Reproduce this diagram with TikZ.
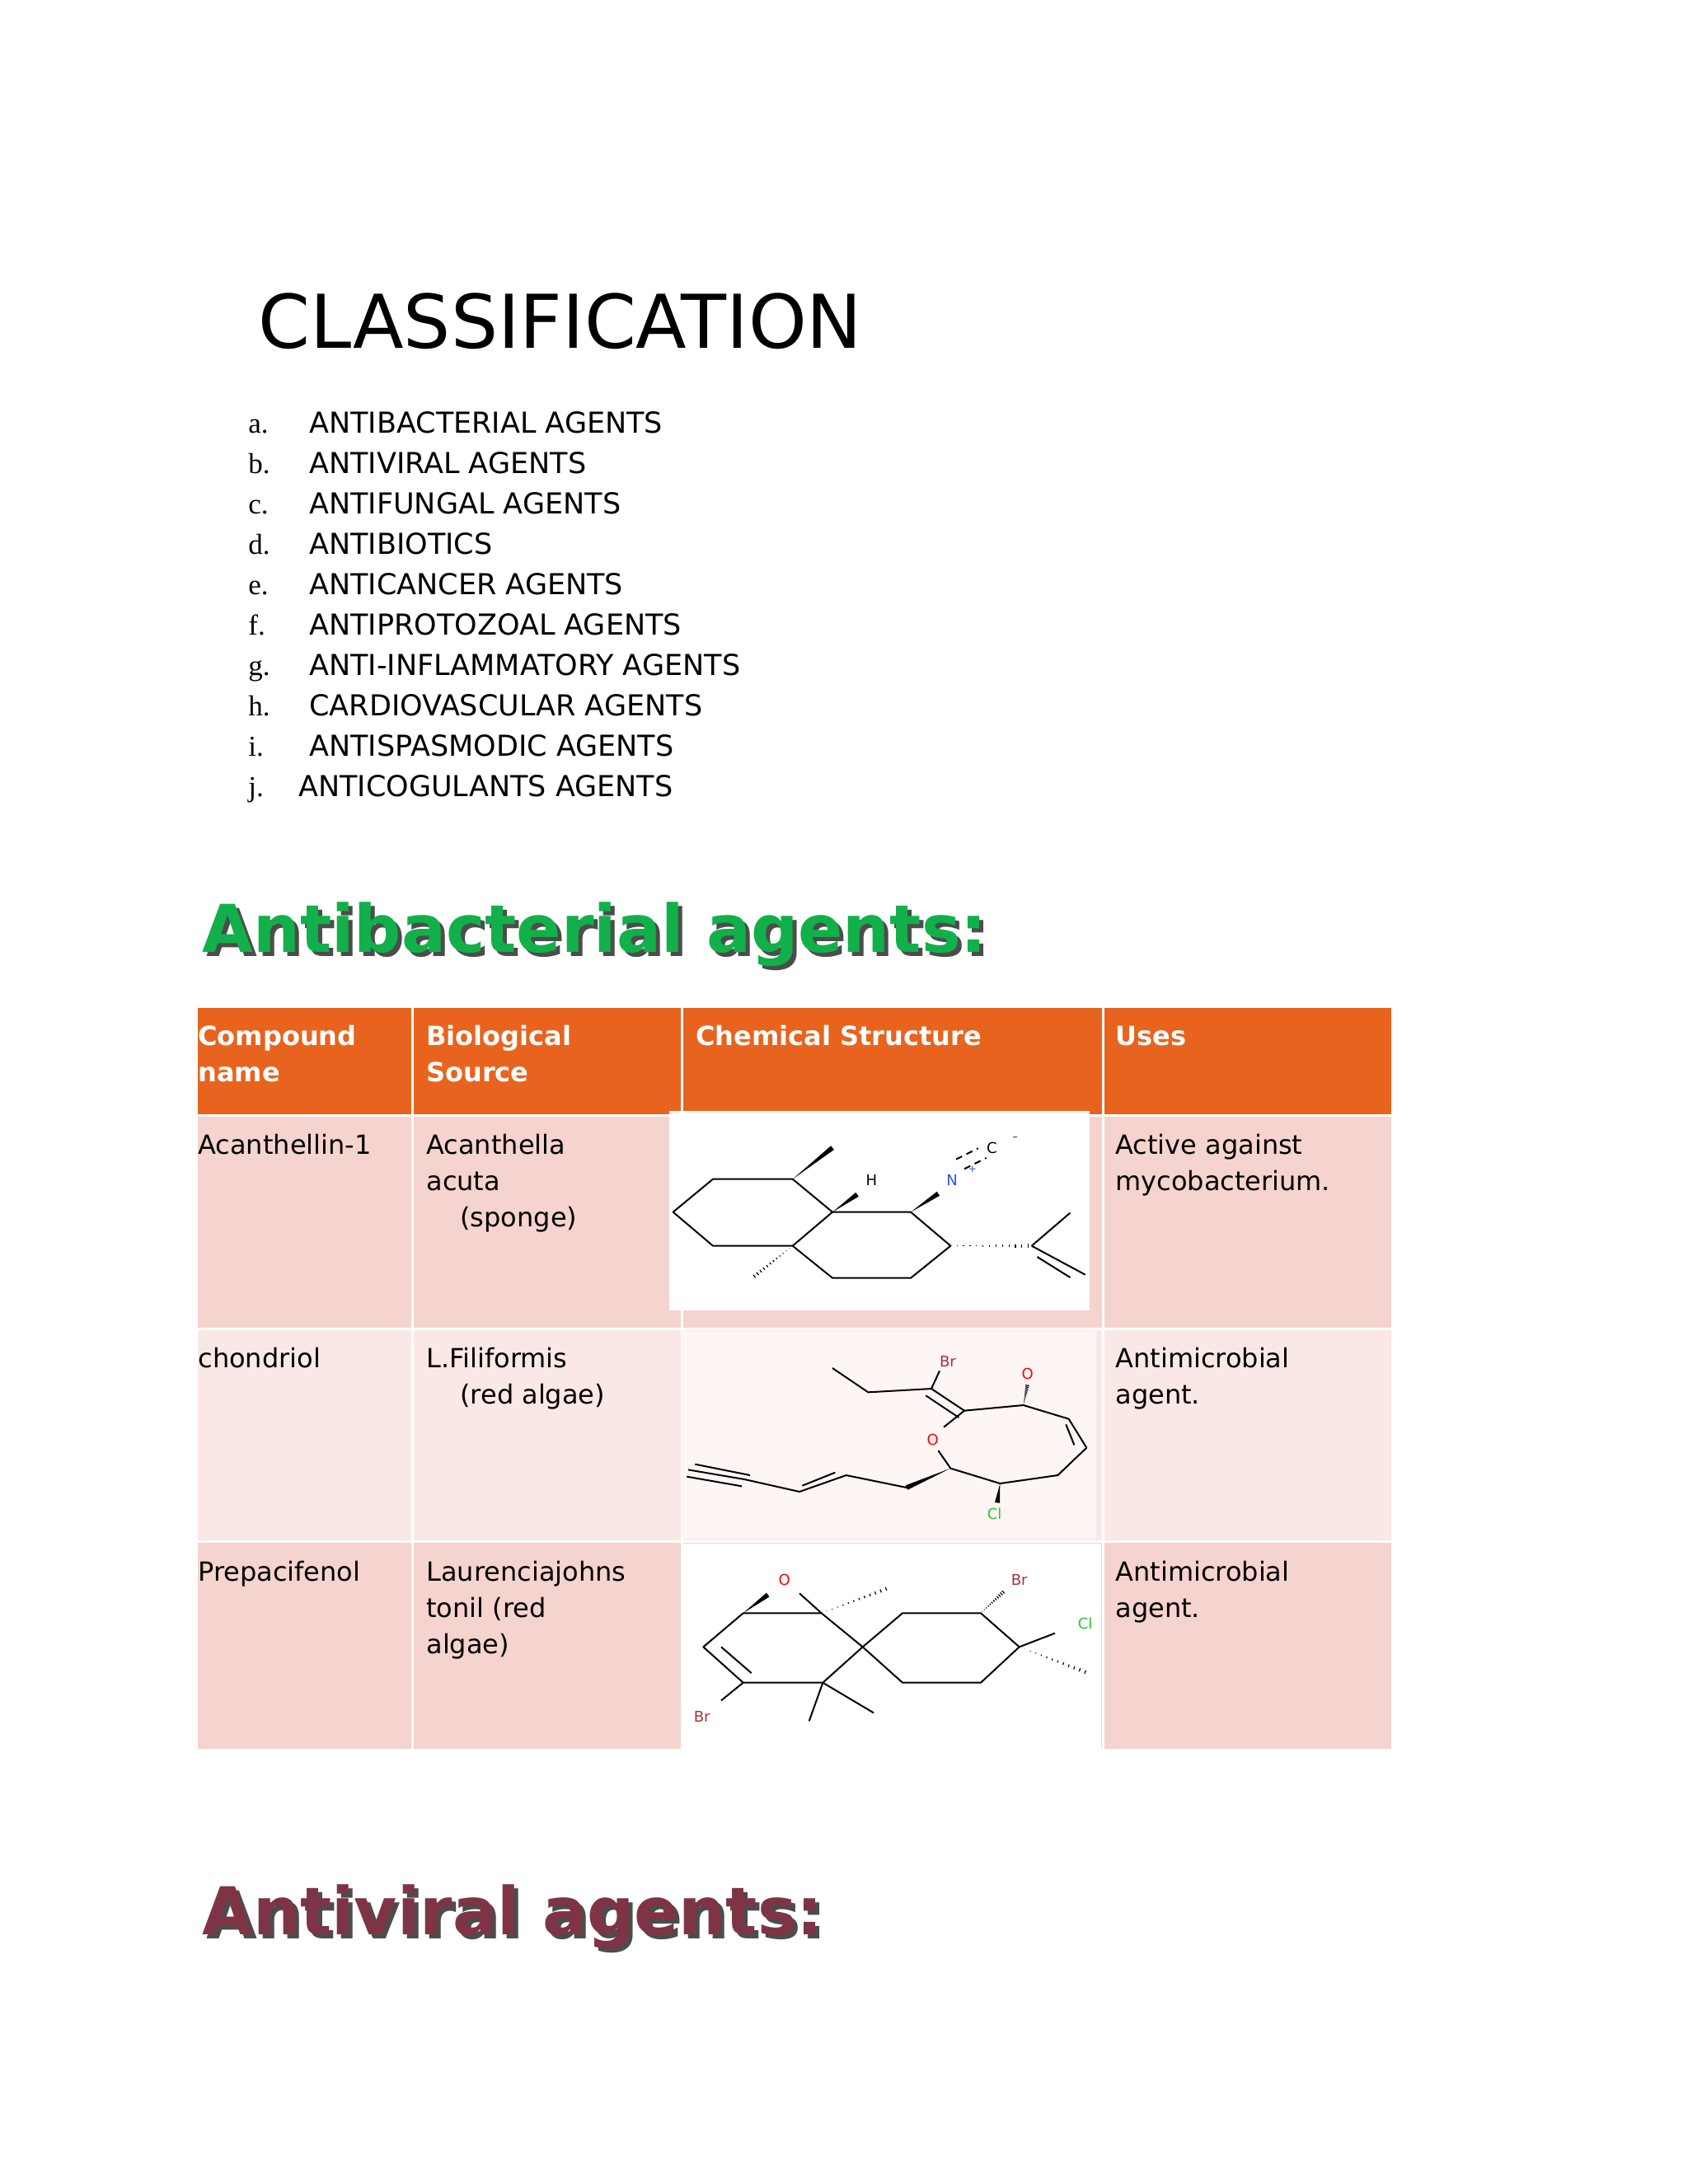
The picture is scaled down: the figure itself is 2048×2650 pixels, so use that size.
\documentclass[tikz,border=0pt]{standalone}
\usepackage{fontspec}
\setmainfont{DejaVu Sans}
\newfontfamily\serifletters{Liberation Serif}
\usetikzlibrary{calc}
\definecolor{hdr}{HTML}{E8641E}
\definecolor{rowa}{HTML}{F5D3CE}
\definecolor{rowb}{HTML}{FAE8E6}
\definecolor{grn}{HTML}{12B04A}
\definecolor{mar}{HTML}{7E3444}
\definecolor{brc}{HTML}{A8343A}
\definecolor{clc}{HTML}{2CC52C}
\definecolor{nblue}{HTML}{3050F0}
\newcommand\mywedge[2]{\fill #1 -- ($#2!4.5pt!90:#1$) -- ($#2!4.5pt!-90:#1$) -- cycle;}
\newcommand\myhash[2]{\foreach \t in {0.08,0.16,...,1.0}{\draw[line width=0.6pt] ($#1!\t!#2!{3.5pt*\t}!90:#2$) -- ($#1!\t!#2!{3.5pt*\t}!-90:#2$);}}
\tikzset{
 lst/.style={anchor=base west,font=\fontsize{17.5}{20}\selectfont},
 let/.style={anchor=base west,font=\serifletters\fontsize{17.5}{20}\selectfont},
 hd/.style={anchor=base west,text=white,font=\bfseries\fontsize{16}{20}\selectfont,inner sep=0},
 bd/.style={anchor=base west,font=\fontsize{16}{20}\selectfont,inner sep=0},
 bond/.style={line width=1pt},
 lab/.style={font=\fontsize{9}{10}\selectfont,inner sep=0}
}
\begin{document}
\begin{tikzpicture}[x=0.5pt,y=-0.5pt]
\useasboundingbox (0,0) rectangle (2048,2650);
\fill[white] (0,0) rectangle (2048,2650);
\node[anchor=base west,inner sep=0,font=\fontsize{45}{50}\selectfont] (title) at (313,422) {CLASSIFICATION};
\foreach \l/\s/\i in {a./ANTIBACTERIAL AGENTS/0,b./ANTIVIRAL AGENTS/1,c./ANTIFUNGAL AGENTS/2,d./ANTIBIOTICS/3,e./ANTICANCER AGENTS/4,f./ANTIPROTOZOAL AGENTS/5,g./ANTI-INFLAMMATORY AGENTS/6,h./CARDIOVASCULAR AGENTS/7,i./ANTISPASMODIC AGENTS/8}{
 \node[let,inner sep=0] (l\i) at (301,{525+49*\i}) {\l};
 \node[lst,inner sep=0] (t\i) at (375,{525+49*\i}) {\s};
}
\node[let,inner sep=0] (l9) at (301,966) {j.};
\node[lst,inner sep=0] (t9) at (362,966) {ANTICOGULANTS AGENTS};
% heading
\node[anchor=base west,inner sep=0,text=black!70,font=\bfseries\fontsize{40}{44}\selectfont] at (250,1160) {Antibacterial agents:};
\node[anchor=base west,inner sep=0,text=grn,font=\bfseries\fontsize{40}{44}\selectfont] (h1) at (245,1155) {Antibacterial agents:};
% table
\fill[hdr] (240,1223) rectangle (1688,1353);
\fill[rowa] (240,1353) rectangle (1688,1612);
\fill[rowb] (240,1612) rectangle (1688,1870);
\fill[rowa] (240,1870) rectangle (1688,2122);
\draw[white,line width=1.5pt] (240,1353) -- (1688,1353) (240,1612) -- (1688,1612) (240,1870) -- (1688,1870);
\draw[white,line width=1.5pt] (500,1223) -- (500,2122) (827,1223) -- (827,2122) (1338,1223) -- (1338,2122);
\fill[white] (812,1348) rectangle (1322,1590);
\fill[white!60!rowb] (827,1615) rectangle (1330,1867);
\fill[white] (827,1873) rectangle (1336,2122);
\node[hd] (c1) at (240,1268) {Compound};
\node[hd] at (240,1312) {name};
\node[hd] (c2) at (517,1268) {Biological};
\node[hd] at (517,1312) {Source};
\node[hd] (c3) at (844,1268) {Chemical Structure};
\node[hd] (c4) at (1353,1268) {Uses};
\node[bd] at (240,1400) {Acanthellin-1};
\node[bd] at (517,1400) {Acanthella};
\node[bd] at (517,1444) {acuta};
\node[bd] at (558,1488) {(sponge)};
\node[bd] at (1353,1400) {Active against};
\node[bd] at (1353,1444) {mycobacterium.};
\node[bd] at (240,1659) {chondriol};
\node[bd] at (517,1659) {L.Filiformis};
\node[bd] at (558,1703) {(red algae)};
\node[bd] at (1353,1659) {Antimicrobial};
\node[bd] at (1353,1703) {agent.};
\node[bd] at (240,1918) {Prepacifenol};
\node[bd] at (517,1918) {Laurenciajohns};
\node[bd] at (517,1962) {tonil (red};
\node[bd] at (517,2006) {algae)};
\node[bd] at (1353,1918) {Antimicrobial};
\node[bd] at (1353,1962) {agent.};
% structure 1
\begin{scope}[shift={(810,1340)},scale=1/3]
\draw[bond,line join=round] (165,272)--(455,272)--(600,392)--(455,515)--(165,515)--(20,392)--cycle;
\draw[bond,line join=round] (600,392)--(885,392)--(1030,515)--(885,632)--(600,632)--(455,515);
\mywedge{(455,272)}{(600,158)}
\mywedge{(600,392)}{(690,328)}
\mywedge{(885,392)}{(985,325)}
\myhash{(455,515)}{(310,630)}
\myhash{(1030,515)}{(1325,515)}
\draw[bond] (1325,515)--(1465,395) (1325,515)--(1520,620) (1345,555)--(1465,630);
\node[lab] at (742,275) {H};
\node[lab,text=nblue] at (1035,275) {N};
\node[lab,font=\fontsize{6}{6}\selectfont,text=nblue] at (1110,235) {+};
\node[lab] at (1180,160) {C};
\node[lab,font=\fontsize{6}{6}\selectfont] at (1265,125) {--};
\draw[bond,dashed,dash pattern=on 4pt off 3pt] (1050,200)--(1130,160) (1080,235)--(1160,195);
\end{scope}
% structure 2
\begin{scope}[shift={(820,1610)},scale=1/3]
\draw[bond,line join=round] (975,365)--(1050,305)--(1265,285)--(1430,335)--(1495,440)--(1390,540)--(1180,570)--(1000,515)--(955,450);
\draw[bond] (1420,355)--(1450,430);
\draw[bond] (1050,305)--(930,225) (1030,330)--(910,250);
\draw[bond] (930,225)--(960,160) (930,225)--(700,238)--(570,150);
\node[lab,text=brc] at (990,125) {Br};
\node[lab,text=red] at (935,410) {O};
\node[lab,text=red] at (1280,172) {O};
\myhash{(1265,285)}{(1280,210)}
\mywedge{(1000,515)}{(840,585)}
\draw[bond,line join=round] (840,585)--(620,540)--(450,600)--(250,555);
\draw[bond] (460,578)--(580,530);
\draw[bond] (250,555)--(45,520) (270,540)--(70,500) (240,580)--(40,545);
\mywedge{(1180,570)}{(1170,640)}
\node[lab,text=clc] at (1160,680) {Cl};
\end{scope}
% structure 3
\begin{scope}[shift={(820,1870)},scale=1/3]
\draw[bond,line join=round] (245,262)--(530,262)--(680,385)--(535,515)--(245,515)--(100,385)--cycle;
\draw[bond] (165,385)--(275,480);
\mywedge{(245,262)}{(335,195)}
\node[lab,text=red] at (395,140) {O};
\draw[bond] (530,262)--(450,190);
\myhash{(530,262)}{(775,170)}
\draw[bond,line join=round] (680,385)--(825,262)--(1110,262)--(1250,385)--(1110,515)--(825,515)--(680,385);
\myhash{(1110,262)}{(1195,182)}
\node[lab,text=brc] at (1250,140) {Br};
\draw[bond] (1250,385)--(1380,335);
\node[lab,text=clc] at (1490,300) {Cl};
\myhash{(1250,385)}{(1500,480)}
\draw[bond] (535,515)--(485,655) (535,515)--(720,625) (245,515)--(165,580);
\node[lab,text=brc] at (95,640) {Br};
\end{scope}
% antiviral heading
\node[anchor=base west,inner sep=0,text=black!70,font=\bfseries\fontsize{40}{44}\selectfont] at (250,2352) {Antiviral agents:};
\node[anchor=base west,inner sep=0,text=mar,font=\bfseries\fontsize{40}{44}\selectfont] (h2) at (245,2347) {Antiviral agents:};
\end{tikzpicture}
\end{document}
